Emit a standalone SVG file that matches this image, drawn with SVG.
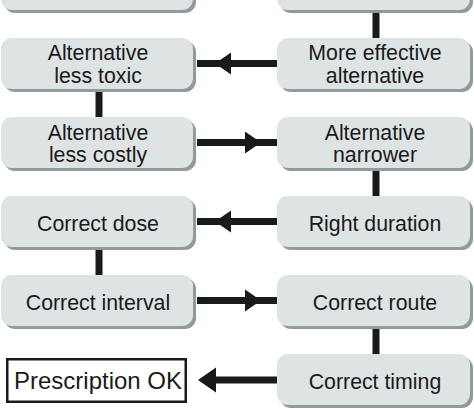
<svg xmlns="http://www.w3.org/2000/svg" width="474" height="410" viewBox="0 0 474 410">
<defs>
<style>
.box{fill:#dee3e4}
.sh{fill:#929b9c}
.t{font-family:"Liberation Sans",Arial,sans-serif;font-size:21.3px;fill:#1a1a1a;text-anchor:middle}
.line{stroke:#1a1a1a;stroke-width:7;fill:none}
.head{fill:#1a1a1a}
</style>
</defs>
<rect width="474" height="410" fill="#ffffff"/>
<g id="connectors">
<line class="line" x1="376" y1="12" x2="376" y2="40"/>
<line class="line" x1="99" y1="90" x2="99" y2="119"/>
<line class="line" x1="376" y1="169" x2="376" y2="198"/>
<line class="line" x1="99" y1="248" x2="99" y2="277"/>
<line class="line" x1="376" y1="327" x2="376" y2="356"/>
<line class="line" x1="197" y1="63.5" x2="277" y2="63.5"/>
<polygon class="head" points="215,63.5 231,52.5 231,74.5"/>
<line class="line" x1="197" y1="142.5" x2="277" y2="142.5"/>
<polygon class="head" points="261,142.5 245,131.5 245,153.5"/>
<line class="line" x1="197" y1="221.5" x2="277" y2="221.5"/>
<polygon class="head" points="215,221.5 231,210.5 231,232.5"/>
<line class="line" x1="197" y1="300.5" x2="277" y2="300.5"/>
<polygon class="head" points="261,300.5 245,289.5 245,311.5"/>
<line class="line" x1="212" y1="380" x2="277" y2="380"/>
<polygon class="head" points="198,380 216,367.5 216,392.5"/>
</g>
<g id="top-left"><rect class="sh" x="4" y="-38" width="192" height="51" rx="11"/><rect class="box" x="1" y="-41" width="192" height="51" rx="11"/></g>
<g id="top-right"><rect class="sh" x="280" y="-38" width="193" height="51" rx="11"/><rect class="box" x="277" y="-41" width="193" height="51" rx="11"/></g>
<g id="less-toxic"><rect class="sh" x="4" y="41" width="192" height="51" rx="11"/><rect class="box" x="1" y="38" width="192" height="51" rx="11"/>
<text class="t" x="98" y="60">Alternative</text><text class="t" x="98" y="82.5">less toxic</text></g>
<g id="more-effective"><rect class="sh" x="280" y="41" width="193" height="51" rx="11"/><rect class="box" x="277" y="38" width="193" height="51" rx="11"/>
<text class="t" x="375" y="60">More effective</text><text class="t" x="375" y="82.5">alternative</text></g>
<g id="less-costly"><rect class="sh" x="4" y="120" width="192" height="51" rx="11"/><rect class="box" x="1" y="117" width="192" height="51" rx="11"/>
<text class="t" x="98" y="140">Alternative</text><text class="t" x="98" y="162">less costly</text></g>
<g id="narrower"><rect class="sh" x="280" y="120" width="193" height="51" rx="11"/><rect class="box" x="277" y="117" width="193" height="51" rx="11"/>
<text class="t" x="375" y="140">Alternative</text><text class="t" x="375" y="162">narrower</text></g>
<g id="correct-dose"><rect class="sh" x="4" y="199" width="192" height="51" rx="11"/><rect class="box" x="1" y="196" width="192" height="51" rx="11"/>
<text class="t" x="98" y="230.5">Correct dose</text></g>
<g id="right-duration"><rect class="sh" x="280" y="199" width="193" height="51" rx="11"/><rect class="box" x="277" y="196" width="193" height="51" rx="11"/>
<text class="t" x="375" y="230.5">Right duration</text></g>
<g id="correct-interval"><rect class="sh" x="4" y="278" width="192" height="51" rx="11"/><rect class="box" x="1" y="275" width="192" height="51" rx="11"/>
<text class="t" x="98" y="309.5">Correct interval</text></g>
<g id="correct-route"><rect class="sh" x="280" y="278" width="193" height="51" rx="11"/><rect class="box" x="277" y="275" width="193" height="51" rx="11"/>
<text class="t" x="375" y="309.5">Correct route</text></g>
<g id="correct-timing"><rect class="sh" x="280" y="357" width="193" height="51" rx="11"/><rect class="box" x="277" y="354" width="193" height="51" rx="11"/>
<text class="t" x="375" y="388.5">Correct timing</text></g>
<g id="prescription-ok"><rect x="7.25" y="359.25" width="178.5" height="42.5" fill="#ffffff" stroke="#1a1a1a" stroke-width="2.5"/>
<text class="t" x="98" y="388.5" style="font-size:24px">Prescription OK</text></g>
</svg>
